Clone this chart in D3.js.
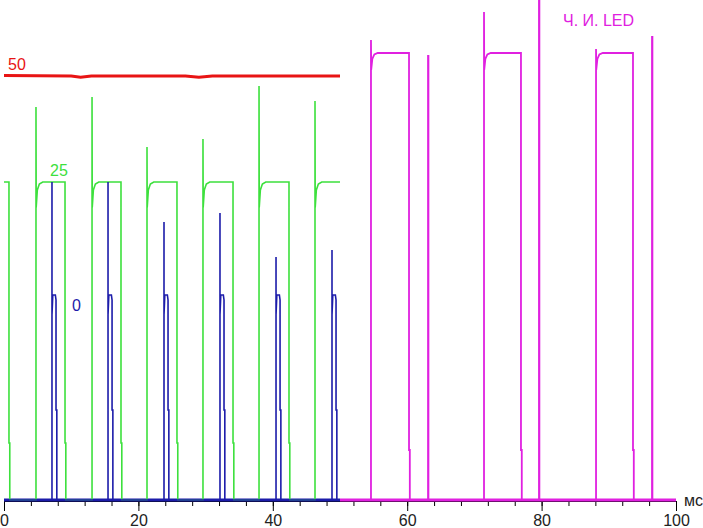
<!DOCTYPE html>
<html>
<head>
<meta charset="utf-8">
<script src="https://cdn.jsdelivr.net/npm/d3@7"></script>
<style>
  body { margin: 0; background: #fff; }
  svg { display: block; font-family: "Liberation Sans", Arial, sans-serif; }
</style>
</head>
<body>
<div id="chart"></div>
<script>
// Values (time in ms, brightness in arbitrary units 0..100)
const xTicksMajor = [0, 20, 40, 60, 80, 100];
const xTicksMinor = d3.range(0, 101, 4);

const redPoints = [[0, 84.9], [10, 84.8], [11.4, 84.55], [13, 84.8], [27, 84.8], [29, 84.55], [31, 84.8], [50, 84.8]];

const greenLevel = 63.6;
const greenFall = [0.74, 9.08, 17.41, 25.74, 34.08, 42.41];
const greenRise = [4.76, 13.1, 21.28, 29.61, 37.95, 46.28];
const greenSpike = [78.6, 80.6, 70.6, 72.2, 82.8, 79.8];

const blueLevel = 41;
const blueRise = [7.14, 15.48, 23.81, 32.14, 40.48, 48.81];
const blueSpike = [63.6, 63.6, 55.6, 57.4, 48.6, 50];

const magentaLevel = 89.4;
const magentaRise = [54.61, 71.43, 88.1];
const magentaRiseSpike = [92, 97.6, 90.2];
const magentaFall = [60.27, 76.93, 93.6];
const magentaFlash = [63.1, 79.61, 96.43];
const magentaFlashTop = [88.8, 101, 92.6];

const seriesLabels = [
    {text: "50", color: "#e81414", x: 8, y: 70},
    {text: "25", color: "#3de03d", x: 50, y: 176},
    {text: "0", color: "#1c1caa", x: 72, y: 311},
    {text: "Ч. И. LED", color: "#e020e0", x: 563, y: 26}
];

const width = 703, height = 528;

const svg = d3.select("#chart")
    .append("svg")
    .attr("width", width)
    .attr("height", height);

const x = d3.scaleLinear().domain([0, 100]).range([4, 676]);
const y = d3.scaleLinear().domain([0, 100]).range([500, 0]);

const line = d3.line()
    .x(d => x(d[0]))
    .y(d => y(d[1]));

// Build the green trace: fall edges have a slow tail, rises a spike then a rounded top
function greenTrace() {
    const pts = [[0, greenLevel]];
    const events = [];
    greenFall.forEach(t => events.push({t, type: "fall"}));
    greenRise.forEach((t, i) => events.push({t, type: "rise", s: greenSpike[i]}));
    events.sort((a, b) => a.t - b.t);
    events.forEach(e => {
        if (e.type === "fall") {
            pts.push([e.t, greenLevel], [e.t, 11.4], [e.t + 0.12, 11.4], [e.t + 0.12, 0]);
        } else {
            pts.push([e.t, 0], [e.t, e.s], [e.t + 0.03, 58.5], [e.t + 0.2, 62], [e.t + 0.5, 63.2], [e.t + 1, greenLevel]);
        }
    });
    pts.push([50, greenLevel]);
    return pts;
}

function blueTrace() {
    const pts = [[0, 0]];
    blueRise.forEach((t, i) => {
        pts.push([t, 0], [t, blueSpike[i]], [t, 37], [t + 0.12, blueLevel], [t + 0.5, blueLevel],
                 [t + 0.6, 40], [t + 0.6, 18], [t + 0.72, 18], [t + 0.72, 0]);
    });
    pts.push([50, 0]);
    return pts;
}

function magentaTrace() {
    const pts = [[50, 0]];
    magentaRise.forEach((t, i) => {
        pts.push([t, 0], [t, magentaRiseSpike[i]], [t + 0.03, 86], [t + 0.2, 88.2], [t + 0.5, 89.1], [t + 1, magentaLevel]);
        const f = magentaFall[i];
        pts.push([f, magentaLevel], [f, 10], [f + 0.12, 10], [f + 0.12, 0]);
        const g = magentaFlash[i];
        pts.push([g, 0], [g, magentaFlashTop[i]], [g + 0.06, magentaFlashTop[i]], [g + 0.06, 0]);
    });
    pts.push([100, 0]);
    return pts;
}

// Axis: minor ticks every 4 ms, longer ones with labels every 20 ms
svg.append("g")
    .attr("transform", `translate(0,${y(0) + 1})`)
    .call(d3.axisBottom(x).tickValues(xTicksMinor).tickSize(5).tickSizeOuter(0).tickFormat(""))
    .call(g => g.select(".domain").attr("stroke", "#000"))
    .call(g => g.selectAll(".tick line").attr("stroke", "#000"));

svg.append("g")
    .attr("transform", `translate(0,${y(0) + 1})`)
    .call(d3.axisBottom(x).tickValues(xTicksMajor).tickSize(10).tickSizeOuter(0).tickPadding(4).tickFormat(d3.format("d")))
    .call(g => g.select(".domain").remove())
    .call(g => g.selectAll(".tick line").attr("stroke", "#000"))
    .call(g => g.selectAll(".tick text")
        .attr("font-size", 16)
        .attr("font-family", "Liberation Sans, Arial, sans-serif")
        .attr("fill", "#222"));

svg.append("text")
    .attr("x", 684)
    .attr("y", y(0) + 6)
    .attr("font-size", 16)
    .attr("fill", "#222")
    .text("мс");

// Thick baselines
svg.append("line")
    .attr("x1", x(0)).attr("x2", x(50))
    .attr("y1", y(0)).attr("y2", y(0))
    .attr("stroke", "#1c1caa").attr("stroke-width", 3);

svg.append("line")
    .attr("x1", x(50)).attr("x2", x(100))
    .attr("y1", y(0)).attr("y2", y(0))
    .attr("stroke", "#e020e0").attr("stroke-width", 3);

svg.append("path")
    .datum(greenTrace())
    .attr("fill", "none")
    .attr("stroke", "#3de03d")
    .attr("stroke-width", 1.6)
    .attr("d", line);

svg.append("path")
    .datum(blueTrace())
    .attr("fill", "none")
    .attr("stroke", "#1c1caa")
    .attr("stroke-width", 1.6)
    .attr("d", line);

svg.append("path")
    .datum(magentaTrace())
    .attr("fill", "none")
    .attr("stroke", "#e020e0")
    .attr("stroke-width", 1.8)
    .attr("d", line);

svg.append("path")
    .datum(redPoints)
    .attr("fill", "none")
    .attr("stroke", "#e81414")
    .attr("stroke-width", 3)
    .attr("d", line);

svg.selectAll(".series-label")
    .data(seriesLabels)
    .enter()
    .append("text")
    .attr("class", "series-label")
    .attr("x", d => d.x)
    .attr("y", d => d.y)
    .attr("font-size", 16)
    .attr("fill", d => d.color)
    .text(d => d.text);
</script>
</body>
</html>
